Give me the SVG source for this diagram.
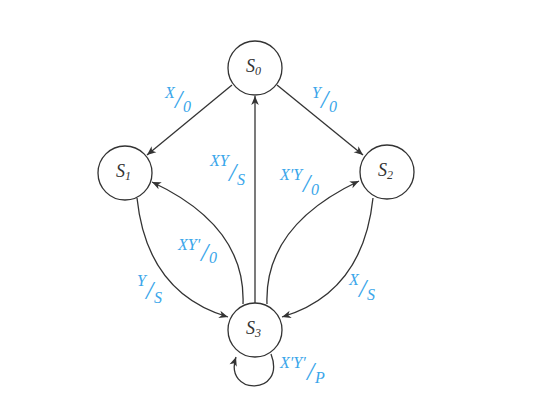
<svg xmlns="http://www.w3.org/2000/svg" width="536" height="420" viewBox="0 0 536 420">
<defs>
<style>
.st{fill:#fff;stroke:#333;stroke-width:1.3}
.sn{font-family:'Liberation Serif','DejaVu Serif',serif;font-style:italic;font-size:18px;fill:#333}
.sub{font-size:12px}
.e{fill:none;stroke:#333;stroke-width:1.3}
.lb{font-family:'Liberation Serif','DejaVu Serif',serif;font-style:italic;font-size:16px;fill:#3aa6ea}
.sl{font-size:26px}
</style>
<marker id="ah" markerUnits="userSpaceOnUse" markerWidth="12" markerHeight="10" viewBox="-10 -5 12 10" refX="0" refY="0" orient="auto">
<path d="M0,0 L-9,-3.8 L-6.5,0 L-9,3.8 Z" fill="#333"/>
</marker>
</defs>
<rect width="536" height="420" fill="#fff"/>
<g id="connectors">
<path class="e" d="M232,85 L147,155" marker-end="url(#ah)"/>
<path class="e" d="M277,85 L363,155" marker-end="url(#ah)"/>
<path class="e" d="M255,303 L255,96" marker-end="url(#ah)"/>
<path class="e" d="M137,198 Q147,293 228,317" marker-end="url(#ah)"/>
<path class="e" d="M243,304 Q246,226 152,182" marker-end="url(#ah)"/>
<path class="e" d="M267,304 Q264,226 359,181" marker-end="url(#ah)"/>
<path class="e" d="M373,198 Q363,293 282,317" marker-end="url(#ah)"/>
<path class="e" d="M271,354 C287,396 223,396 236,357" marker-end="url(#ah)"/>
</g>
<g id="labels">
<text class="lb"><tspan x="165" y="98">X</tspan><tspan class="sl" x="175" y="108">/</tspan><tspan x="183" y="112">0</tspan></text>
<text class="lb"><tspan x="312" y="98">Y</tspan><tspan class="sl" x="321" y="108">/</tspan><tspan x="329" y="112">0</tspan></text>
<text class="lb"><tspan x="210" y="166">XY</tspan><tspan class="sl" x="229" y="181">/</tspan><tspan x="237" y="185">S</tspan></text>
<text class="lb"><tspan x="280" y="180">X′Y</tspan><tspan class="sl" x="303" y="192">/</tspan><tspan x="311" y="195">0</tspan></text>
<text class="lb"><tspan x="178" y="250">XY′</tspan><tspan class="sl" x="201" y="261">/</tspan><tspan x="209" y="263">0</tspan></text>
<text class="lb"><tspan x="137" y="286">Y</tspan><tspan class="sl" x="146" y="299">/</tspan><tspan x="154" y="303">S</tspan></text>
<text class="lb"><tspan x="349" y="285">X</tspan><tspan class="sl" x="359" y="297">/</tspan><tspan x="367" y="300">S</tspan></text>
<text class="lb"><tspan x="280" y="368">X′Y′</tspan><tspan class="sl" x="307" y="380">/</tspan><tspan x="315" y="383">P</tspan></text>
</g>
<g id="S0"><circle class="st" cx="255" cy="68" r="27"/><text class="sn" x="246" y="72">S<tspan class="sub" dy="3">0</tspan></text></g>
<g id="S1"><circle class="st" cx="125" cy="173" r="27"/><text class="sn" x="116" y="177">S<tspan class="sub" dy="3">1</tspan></text></g>
<g id="S2"><circle class="st" cx="387" cy="172" r="27"/><text class="sn" x="378" y="176">S<tspan class="sub" dy="3">2</tspan></text></g>
<g id="S3"><circle class="st" cx="255" cy="330" r="27"/><text class="sn" x="246" y="334">S<tspan class="sub" dy="3">3</tspan></text></g>
</svg>
